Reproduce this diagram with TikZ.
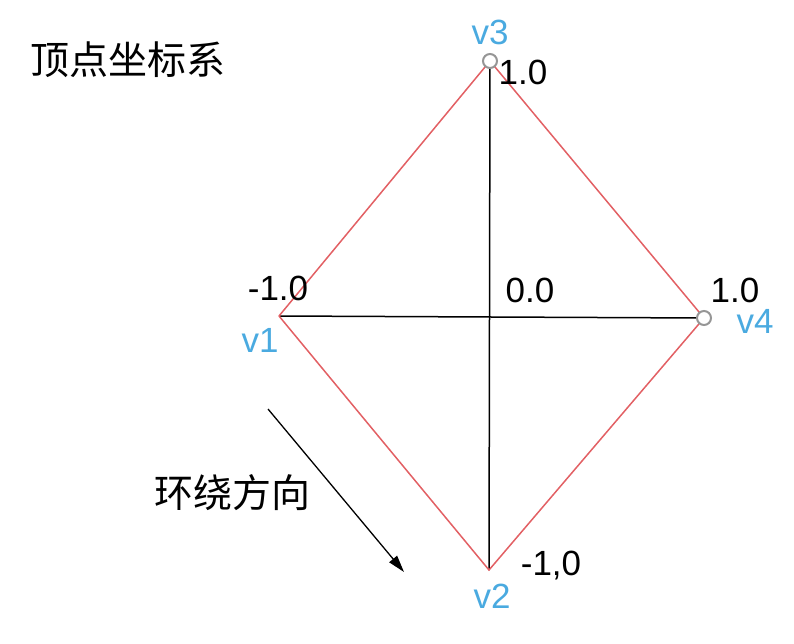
\documentclass[tikz,border=0pt]{standalone}
\usepackage{fontspec}
\setmainfont{Liberation Sans}
\newfontfamily\cjk{Noto Sans CJK SC}
\usetikzlibrary{arrows.meta}
\definecolor{vblue}{RGB}{74,170,224}
\definecolor{edgered}{RGB}{226,96,100}
\definecolor{ringgray}{RGB}{150,150,150}

\begin{document}
\begin{tikzpicture}[%
    x=1pt, y=-1pt,       % one unit per pixel of the reference, y downwards
    >={Triangle[length=17pt, width=10pt]}, % filled arrow for the winding direction
    ]
% -------------------------------------------------
% Styles
\tikzset{
  vert/.style={inner sep=0pt, minimum size=0pt},
  ring/.style={circle, draw=ringgray, line width=2pt, fill=white,
    inner sep=0pt, minimum size=14pt},
  axis/.style={draw, line width=1.5pt},
  edge/.style={draw=edgered, line width=1.5pt},
  num/.style={font=\fontsize{35}{40}\selectfont, inner sep=0pt, anchor=base},
  vlabel/.style={num, text=vblue},
  han/.style={font=\cjk\fontsize{39}{44}\selectfont, inner sep=0pt}
}
\useasboundingbox (0,0) rectangle (794,644);
% -------------------------------------------------
% The four vertices
\coordinate (v1) at (279,316);
\coordinate (v2) at (489,570);
\coordinate (v3) at (490,61);
\coordinate (v4) at (704,318);

% Axes, then the red outline
\draw [axis] (v1) -- (v4);
\draw [axis] (v3) -- (v2);
\draw [edge] (v1) -- (v2) -- (v4) -- (v3) -- (v1);

% Open markers on v3 and v4
\node [ring] (r3) at (v3) {};
\node [ring] (r4) at (v4) {};

% -------------------------------------------------
% Vertex names and values
\node [vlabel] (n3) at (490,45) {v3};
\node [num] (top) at (523,85) {1.0};
\node [num] (left) at (278,300) {-1.0};
\node [vlabel] (n1) at (260,352) {v1};
\node [num] (mid) at (530,302) {0.0};
\node [num] (right) at (735,302) {1.0};
\node [vlabel] (n4) at (755,333) {v4};
\node [num] (bottom) at (551,575) {-1,0};
\node [vlabel] (n2) at (492,608) {v2};

% Titles
\node [han] (title) at (128,60) {顶点坐标系};
\node [han] (wind) at (232,493) {环绕方向};

% Winding direction
\coordinate (w0) at (268,409);
\coordinate (w1) at (404,572);
\draw [->, line width=1.3pt] (w0) -- (w1);
% -------------------------------------------------
\end{tikzpicture}
\end{document}
